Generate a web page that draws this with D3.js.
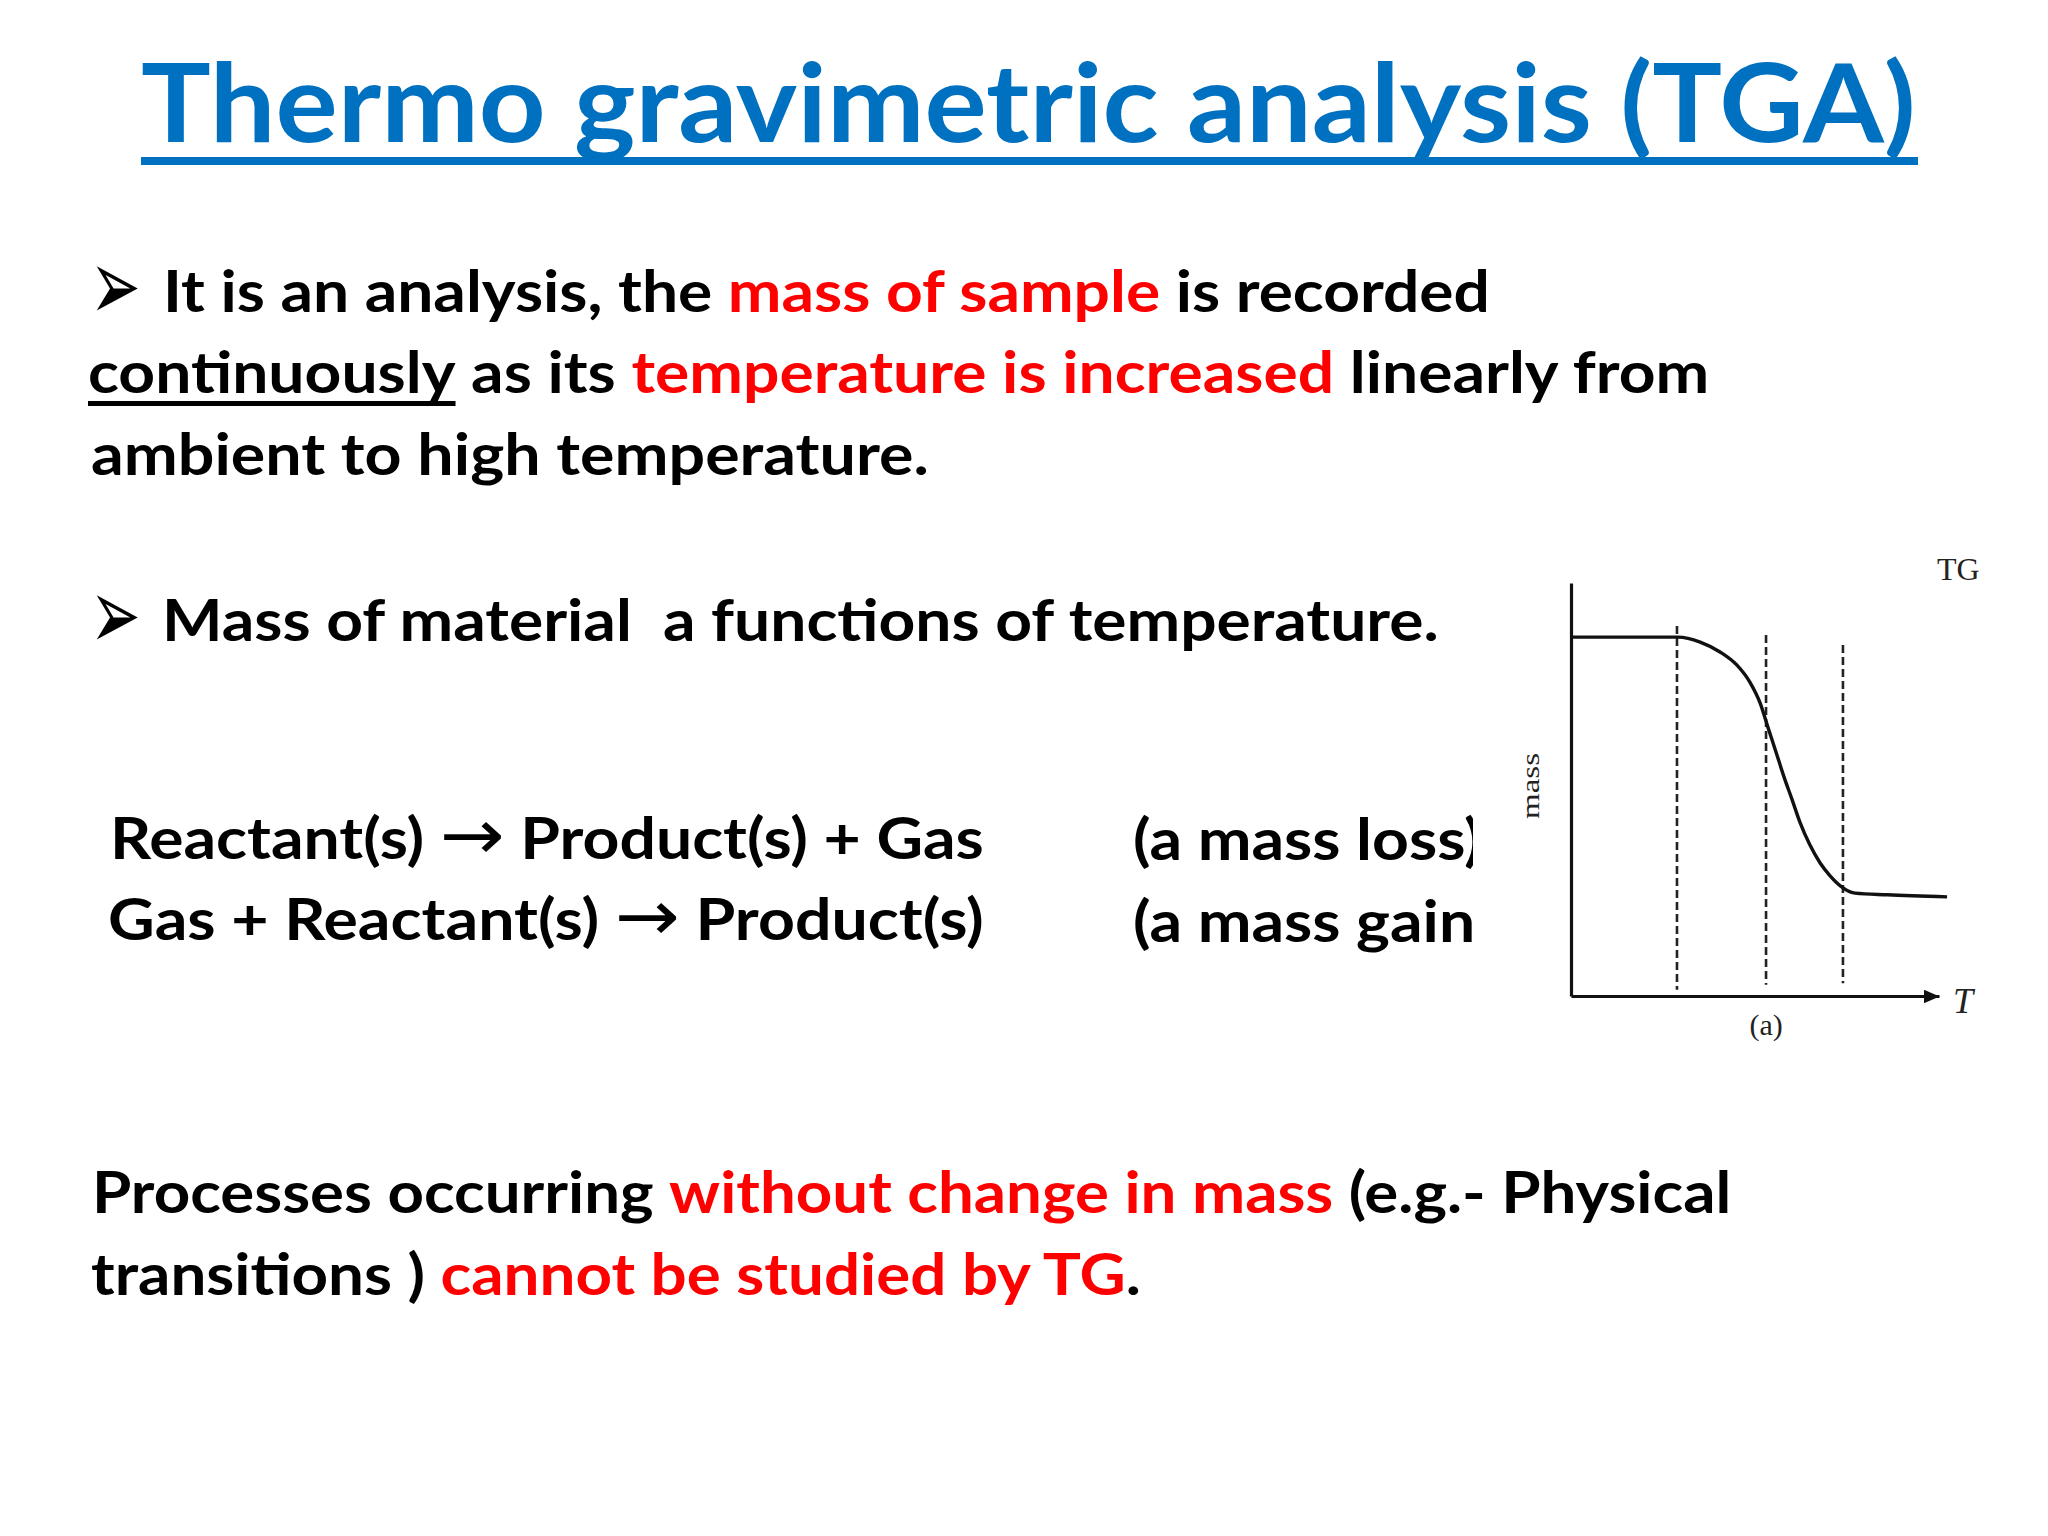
<!doctype html>
<html>
<head>
<meta charset="utf-8">
<title>Thermo gravimetric analysis (TGA)</title>
<script src="https://cdnjs.cloudflare.com/ajax/libs/d3/7.8.5/d3.min.js"></script>
<style>
body { margin: 0; background: #fff; }
svg text { font-family: Lato, "Open Sans", sans-serif; font-weight: 700; white-space: pre; }
.fig text { font-family: "Liberation Serif", "DejaVu Serif", serif; font-weight: 400; fill: #222; }
.fig .domain { stroke: #111; stroke-width: 3.2; }
</style>
</head>
<body>
<script>
// ---- slide text ----
var titleText = "Thermo gravimetric analysis (TGA)";
var bulletMark = "\u27A2";
var lineOne   = [["It is an analysis, the ", "k"], ["mass of sample", "r"], [" is recorded", "k"]];
var lineTwo   = [["continuously", "k"], [" as its ", "k"], ["temperature is increased", "r"], [" linearly from", "k"]];
var lineThree = [["ambient to high temperature.", "k"]];
var lineFour  = [["Mass of material  a functions of temperature.", "k"]];
var reactOne  = [["Reactant(s) ", "k"], ["\u2192", "a"], [" Product(s) + Gas", "k"]];
var reactTwo  = [["Gas + Reactant(s) ", "k"], ["\u2192", "a"], [" Product(s)", "k"]];
var noteOne   = [["(a mass loss)", "k"]];
var noteTwo   = [["(a mass gain)", "k"]];
var lineSeven = [["Processes occurring ", "k"], ["without change in mass", "r"], [" (e.g.- Physical", "k"]];
var lineEight = [["transitions ) ", "k"], ["cannot be studied by TG", "r"], [".", "k"]];

// ---- TG curve (arbitrary units) ----
var curveTemp = [0, 29.1, 35.1, 40.5, 45.1, 48.6, 51.4, 53.5, 55.7, 57.9, 60.1, 62.2, 64.9, 67.7, 70.4, 73.9, 77.2, 85.9, 102.2];
var curveMass = [86.9, 86.9, 85.7, 83.3, 80.1, 76.0, 70.9, 65.1, 59.1, 53.0, 47.5, 42.1, 36.6, 32.2, 29.1, 26.2, 24.9, 24.5, 24.0];
var stepTemp   = [28.8, 53.0, 73.9];
var stepTop    = [89.6, 87.4, 85.0];
var stepBottom = [1.5, 2.7, 3.1];
var figLabels = {y: "mass", x: "T", caption: "(a)", corner: "TG"};

var colours = {k: "#000000", r: "#FF0000", a: "#000000"};

var svg = d3.select("body").append("svg")
    .attr("width", 2048).attr("height", 1536);

svg.append("rect").attr("width", 2048).attr("height", 1536).attr("fill", "#fff");

// one line of text, stretched horizontally so it runs from x0 to x1
function textLine(segs, x0, base, x1, size, sxFixed) {
  var g = svg.append("g");
  var t = g.append("text").style("font-size", size + "px");
  var spans = segs.map(function (s) {
    var sp = t.append("tspan").text(s[0]).attr("fill", colours[s[1]]);
    if (s[1] === "a") sp.style("font-family", "DejaVu Sans").style("font-weight", "400").style("font-size", "70px");
    return sp;
  });
  var w = t.node().getComputedTextLength();
  var sx = sxFixed || (x1 - x0) / w;
  g.attr("transform", "translate(" + x0 + "," + base + ") scale(" + sx + ",1)");
  return {g: g, spans: spans, sx: sx};
}

function bullet(tx, ty) {
  svg.append("text")
      .attr("transform", "translate(" + tx + "," + ty + ") scale(1.08,1.8)")
      .style("font-family", "DejaVu Sans").style("font-weight", "400")
      .style("font-size", "56px")
      .text(bulletMark);
}

// title
var title = textLine([[titleText, "t"]], 141, 142, 1916, 110);
title.spans[0].attr("fill", "#0070C0");
svg.append("rect").attr("x", 141).attr("y", 157).attr("width", 1918 - 141).attr("height", 8)
    .attr("fill", "#0070C0");

var fs = 58;
bullet(90, 320);
textLine(lineOne, 163, 312, 1490, fs);
var l2 = textLine(lineTwo, 88, 393, 1708, fs);
l2.g.append("rect").attr("x", 0).attr("y", 8)
    .attr("width", l2.spans[0].node().getComputedTextLength()).attr("height", 5)
    .attr("fill", "#000");
textLine(lineThree, 91, 475, 929, fs);
bullet(90, 649);
textLine(lineFour, 162, 641, 1439, fs);
var r1 = textLine(reactOne, 110, 859, 984, fs);
var r2 = textLine(reactTwo, 108, 940, 984, fs);
textLine(noteOne, 1133, 860, null, fs, r1.sx);
textLine(noteTwo, 1133, 942, null, fs, r1.sx);
textLine(lineSeven, 92, 1213, 1730, fs);
textLine(lineEight, 91, 1295, 1141, fs);

// ---- pasted TG figure (its white box hides the end of the notes) ----
var fig = svg.append("g").attr("class", "fig");
fig.append("rect").attr("x", 1473).attr("y", 540).attr("width", 545).attr("height", 520)
    .attr("fill", "#fff");

var x = d3.scaleLinear().domain([0, 100]).range([1571, 1939]);
var y = d3.scaleLinear().domain([0, 100]).range([996, 583]);

svg.append("defs").append("marker")
    .attr("id", "head").attr("markerUnits", "userSpaceOnUse")
    .attr("markerWidth", 20).attr("markerHeight", 16)
    .attr("refX", 16).attr("refY", 7).attr("orient", "auto")
  .append("path").attr("d", "M0,0L16,7L0,14Z").attr("fill", "#111");

fig.append("g").attr("transform", "translate(0," + y(0) + ")")
    .call(d3.axisBottom(x).tickValues([]).tickSizeOuter(0))
  .select(".domain").attr("marker-end", "url(#head)");

fig.append("g").attr("transform", "translate(" + x(0) + ",0)")
    .call(d3.axisLeft(y).tickValues([]).tickSizeOuter(0));

fig.selectAll(".step").data(stepTemp).enter().append("line")
    .attr("class", "step")
    .attr("x1", function (d) { return x(d); }).attr("x2", function (d) { return x(d); })
    .attr("y1", function (d, i) { return y(stepTop[i]); })
    .attr("y2", function (d, i) { return y(stepBottom[i]); })
    .attr("stroke", "#222").attr("stroke-width", 2.6).attr("stroke-dasharray", "8,4");

var pts = curveTemp.map(function (t, i) { return [t, curveMass[i]]; });
fig.append("path").datum(pts)
    .attr("fill", "none").attr("stroke", "#111").attr("stroke-width", 3.4)
    .attr("d", d3.line().x(function (d) { return x(d[0]); }).y(function (d) { return y(d[1]); })
      .curve(d3.curveMonotoneX));

fig.append("text").attr("transform", "translate(1539,786) rotate(-90)")
    .attr("text-anchor", "middle").style("font-size", "26px")
    .attr("textLength", 66).attr("lengthAdjust", "spacingAndGlyphs")
    .text(figLabels.y);
fig.append("text").attr("x", 1953).attr("y", 1013)
    .style("font-size", "36px").style("font-style", "italic")
    .text(figLabels.x);
fig.append("text").attr("x", x(53)).attr("y", 1035).attr("text-anchor", "middle")
    .style("font-size", "30px").text(figLabels.caption);
fig.append("text").attr("x", 1937).attr("y", 580)
    .style("font-size", "32px").text(figLabels.corner);
</script>
</body>
</html>
